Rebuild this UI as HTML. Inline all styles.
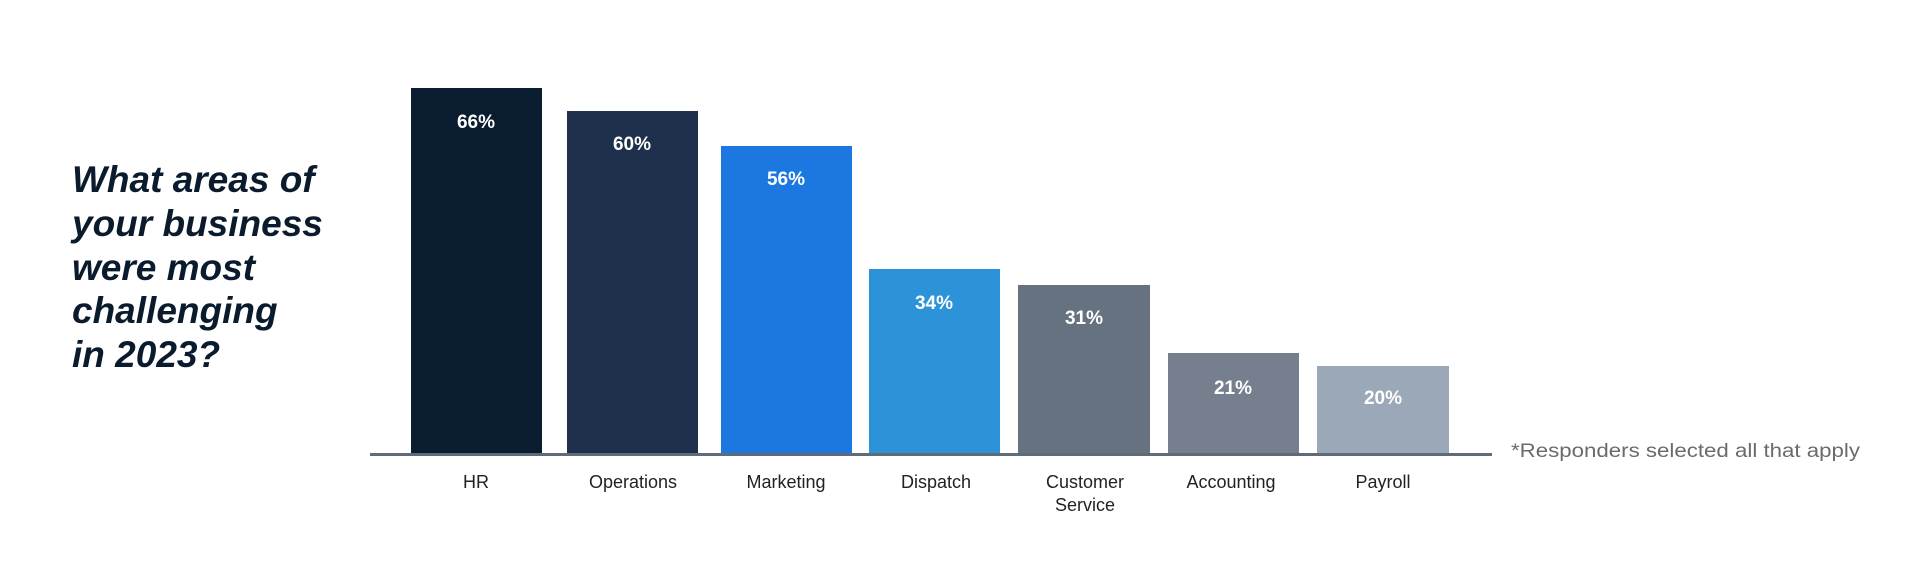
<!DOCTYPE html>
<html><head><meta charset="utf-8"><style>
body{margin:0;background:#fff;width:1920px;height:560px;overflow:hidden}
</style></head><body>
<svg width="1920" height="560" xmlns="http://www.w3.org/2000/svg" font-family="Liberation Sans, Arial, sans-serif">
<g font-weight="bold" font-style="italic" font-size="37" fill="#0a1b2e">
<text x="72" y="192">What areas of</text>
<text x="72" y="236">your business</text>
<text x="72" y="280">were most</text>
<text x="72" y="323">challenging</text>
<text x="72" y="367">in 2023?</text>
</g>
<rect x="411" y="88" width="131" height="367" fill="#0a1c2f"/>
<rect x="567" y="111" width="131" height="344" fill="#1e304c"/>
<rect x="721" y="146" width="131" height="309" fill="#1c78e0"/>
<rect x="869" y="269" width="131" height="186" fill="#2d93d9"/>
<rect x="1018" y="285" width="132" height="170" fill="#66727f"/>
<rect x="1168" y="353" width="131" height="102" fill="#767f8e"/>
<rect x="1317" y="366" width="132" height="89" fill="#9aa8b8"/>
<rect x="370" y="453" width="1122" height="3" fill="#5e6b78"/>
<g font-weight="bold" font-size="19" fill="#fff" text-anchor="middle">
<text x="476" y="128">66%</text>
<text x="632" y="150">60%</text>
<text x="786" y="185">56%</text>
<text x="934" y="309">34%</text>
<text x="1084" y="324">31%</text>
<text x="1233" y="394">21%</text>
<text x="1383" y="404">20%</text>
</g>
<g font-size="18" fill="#222" text-anchor="middle">
<text x="476" y="488">HR</text>
<text x="633" y="488">Operations</text>
<text x="786" y="488">Marketing</text>
<text x="936" y="488">Dispatch</text>
<text x="1085" y="488">Customer</text>
<text x="1085" y="511">Service</text>
<text x="1231" y="488">Accounting</text>
<text x="1383" y="488">Payroll</text>
</g>
<text x="1511" y="457" font-size="19" fill="#6b6b6b" textLength="349" lengthAdjust="spacingAndGlyphs">*Responders selected all that apply</text>
</svg>
</body></html>
